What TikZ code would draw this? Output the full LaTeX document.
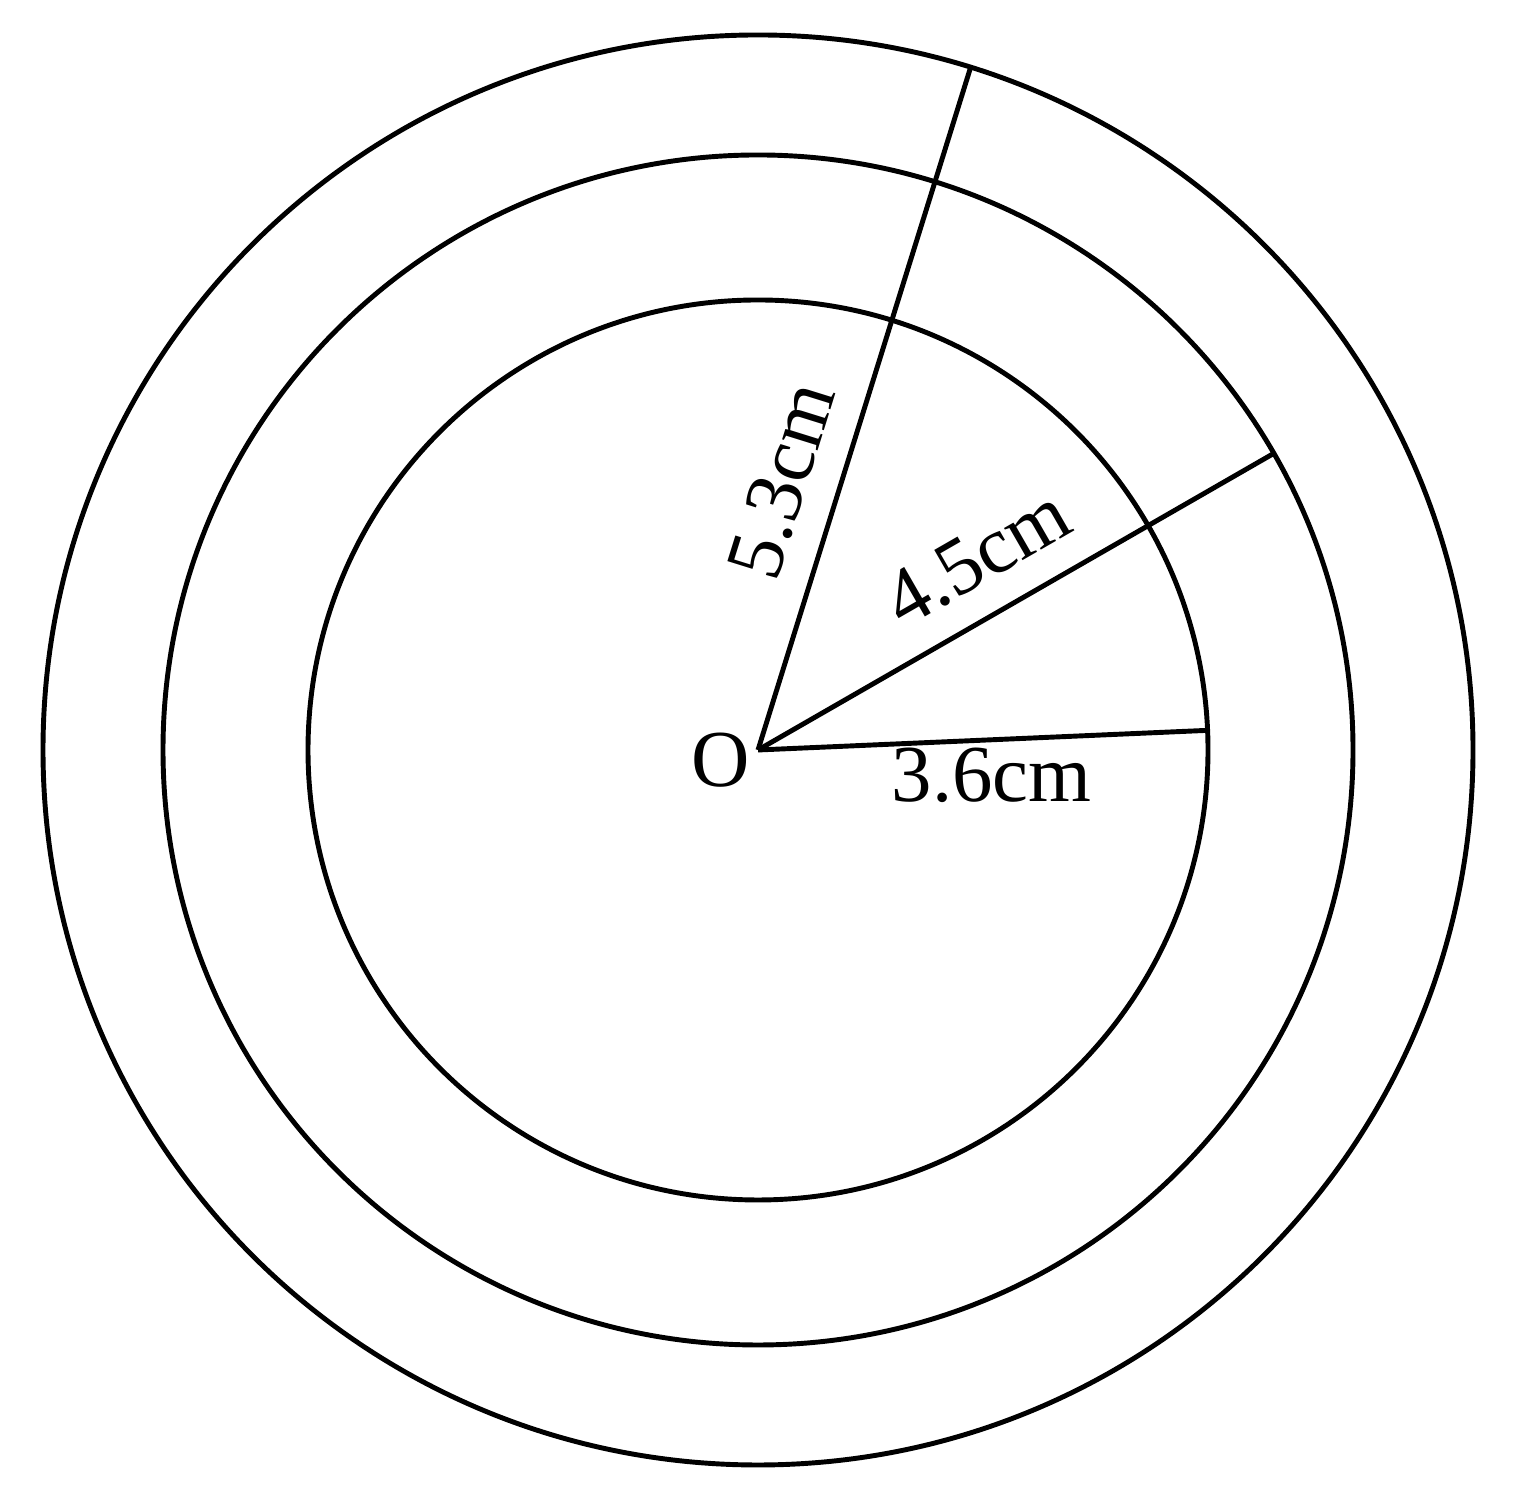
\documentclass[tikz,border=0pt]{standalone}
\usepackage{fontspec}
\setmainfont{Liberation Serif}
\usetikzlibrary{calc}
\begin{document}
\begin{tikzpicture}[
      every node/.style={font=\fontsize{23}{27}\selectfont},
      ring/.style={line width=1.4pt},
      radius line/.style={line width=1.4pt}
    ]
      \useasboundingbox (0,0) rectangle (15.36,15.05);
      \coordinate (O) at (7.58,7.55);
      % the three circles
      \draw[ring] (O) circle (4.5);
      \draw[ring] (O) circle (5.95);
      \draw[ring] (O) circle (7.15);
      \coordinate (A) at ($(O)+(72.7:7.15)$);
      \coordinate (B) at ($(O)+(29.9:5.95)$);
      \coordinate (C) at ($(O)+(2.5:4.5)$);
      \draw[radius line] (O) -- node[pos=0.37, sloped, above, inner sep=8pt] (l53) {5.3cm} (A);
      \draw[radius line] (O) -- node[pos=0.48, sloped, above, inner sep=8pt] (l45) {4.5cm} (B);
      \draw[radius line] (O) -- node[pos=0.52, below, inner sep=1.5pt] (l36) {3.6cm} (C);
      \node[anchor=north east, inner sep=2pt, yshift=7pt] (o) at (O) {O};
    \end{tikzpicture}
\end{document}
